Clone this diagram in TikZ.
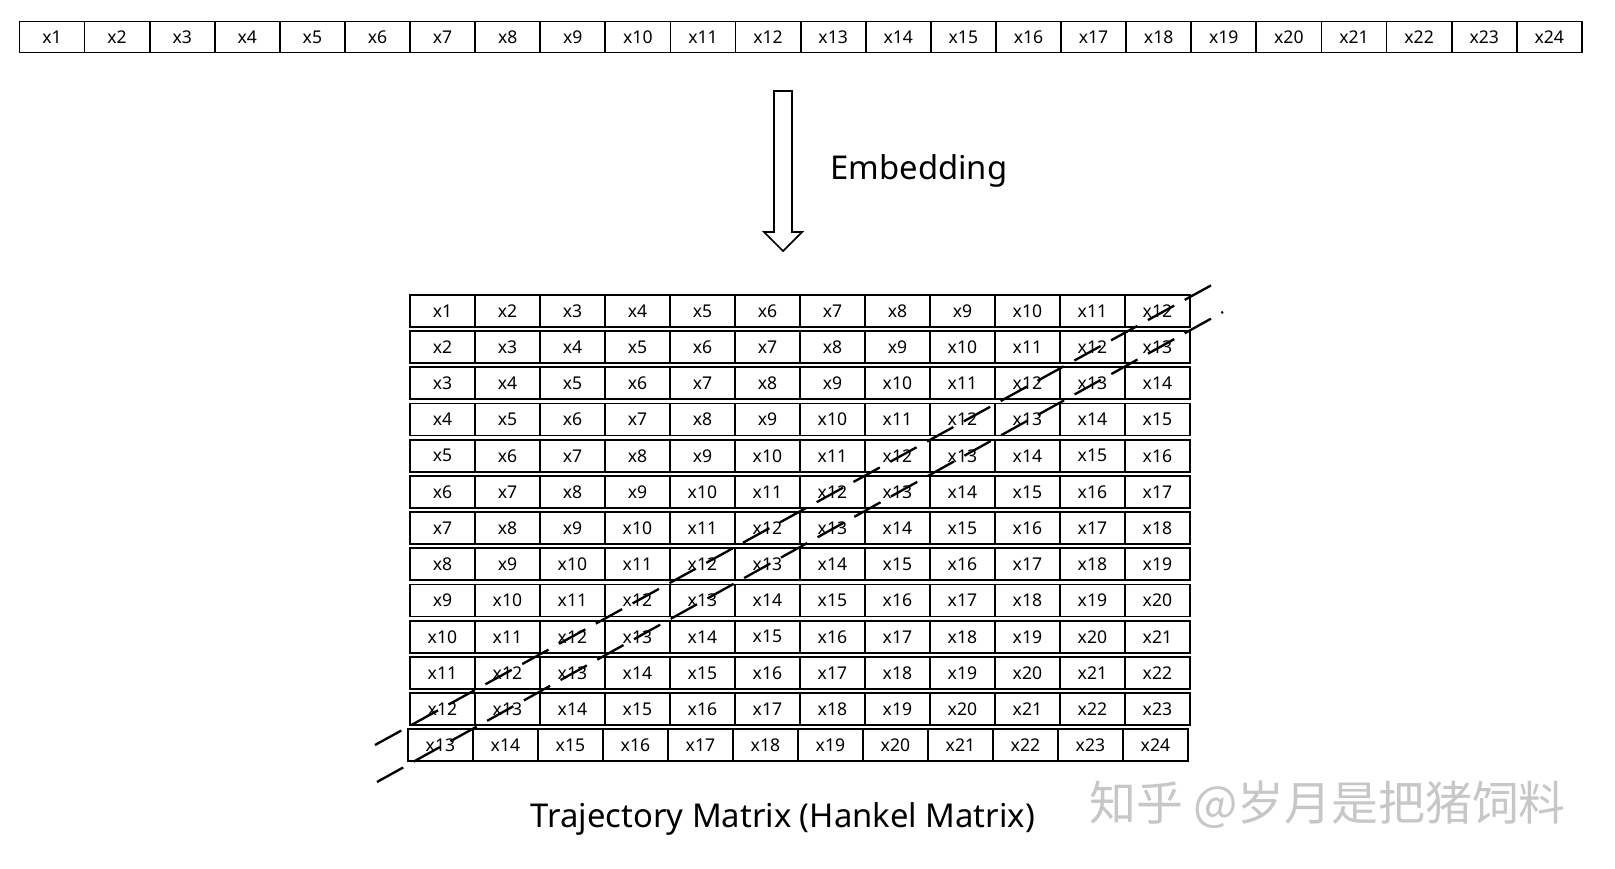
\documentclass[tikz,border=0pt]{standalone}
\usepackage{fontspec}
\setmainfont{Noto Sans}
\newfontfamily\cjk{Noto Sans CJK SC}
\begin{document}
\begin{tikzpicture}[x=0.03cm,y=-0.03cm,
  cell/.style={draw,line width=1.6pt,minimum width=65*0.03cm,minimum height=32*0.03cm,inner sep=0pt,font=\fontsize{15}{15}\selectfont,anchor=north west},
  tcell/.style={draw,line width=1.6pt,minimum width=65.1*0.03cm,minimum height=31*0.03cm,inner sep=0pt,font=\fontsize{15}{15}\selectfont,anchor=north west},
  diag/.style={line width=2pt,dash pattern=on 30*0.03cm off 12*0.03cm}]
\useasboundingbox (0,0) rectangle (1615,869);
\foreach \i in {1,...,24}{
  \node[tcell] (t\i) at ({18.5+(\i-1)*65.1},20.6) {x\i};
}
\draw[line width=1.5pt,fill=white] (774,91) -- (792,91) -- (792,232) -- (802,232) -- (783,251) -- (764,232) -- (774,232) -- cycle;
\node[font=\fontsize{28}{28}\selectfont] (emb) at (919,171) {Embedding};
\foreach \r in {1,...,13}{
  \foreach \c in {1,...,12}{
    \pgfmathtruncatemacro{\v}{\r+\c-1}
    \node[cell] (m\r-\c) at ({409+(\c-1)*65-(\r==13?2:0)},{294+(\r-1)*36.2}) {x\v};
  }
}
\coordinate (a1) at (375,745); \coordinate (a2) at (1219,281);
\coordinate (b1) at (377,782); \coordinate (b2) at (1223,312);
\draw[diag] (a1) -- (a2);
\draw[diag] (b1) -- (b2);
\node[font=\fontsize{28}{28}\selectfont] (cap) at (783,819) {Trajectory Matrix (Hankel Matrix)};
\node[font=\cjk\fontsize{40}{40}\selectfont,text=black!22,anchor=west] (wm) at (1085,805) {知乎 @岁月是把猪饲料};
\end{tikzpicture}
\end{document}
